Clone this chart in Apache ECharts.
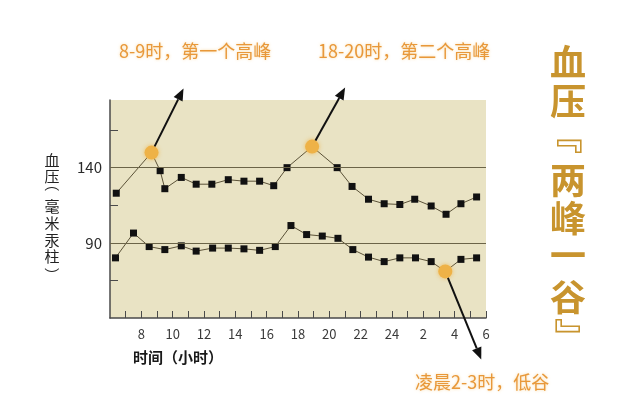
<!DOCTYPE html>
<html><head><meta charset="utf-8">
<script src="https://cdn.jsdelivr.net/npm/echarts@6/dist/echarts.min.js"></script>
<style>html,body{margin:0;padding:0;background:#fff}#c{width:640px;height:403px}</style>
</head><body><div id="c"></div>
<script>
// ---- data ----
const upperTime  = [6.4, 8.65, 9.2, 9.5, 10.55, 11.5, 12.5, 13.55, 14.55, 15.55, 16.45, 17.3, 18.9, 20.5, 21.45, 22.5, 23.5, 24.5, 25.45, 26.5, 27.45, 28.4, 29.4];
const upperValue = [123, 150, 138, 126, 133.5, 129, 129, 132, 131, 131, 128, 140, 154, 140, 127.5, 119, 116, 115.5, 119, 114.5, 109, 116, 120.5];
const upperHighlights = [1, 12];
const lowerTime  = [6.35, 7.5, 8.5, 9.5, 10.55, 11.5, 12.55, 13.55, 14.55, 15.55, 16.55, 17.55, 18.55, 19.55, 20.55, 21.5, 22.5, 23.5, 24.5, 25.5, 26.5, 27.4, 28.4, 29.4];
const lowerValue = [80, 96.5, 87.5, 85.5, 88, 84.5, 86.5, 86.5, 86, 85, 87.5, 101.5, 95.5, 94.5, 93, 85.5, 80.5, 77.5, 80, 80, 77.5, 71, 79, 80];
const lowerHighlights = [21];
const refLines = [140, 90];
const yLabelValues = [90, 140];
const yTickValues = [65, 90, 115, 140, 165];
const annotations = ['8-9时，第一个高峰', '18-20时，第二个高峰', '凌晨2-3时，低谷'];
const titleText = '血压『两峰一谷』';
const yName = '血压（毫米汞柱）';
const xName = '时间（小时）';

// ---- layout / styles ----
const FONT = '"Noto Sans CJK SC", "Noto Sans", sans-serif';
const ORANGE = '#e8983a';
const GOLD = '#c8942e';
const HL = { symbol: 'circle', symbolSize: 14, itemStyle: { color: '#eeb247', shadowBlur: 4, shadowColor: 'rgba(240,180,70,0.8)' } };
const ROTATE_CHARS = '『』（）';
const titleCenters = [62, 101, 136, 180, 218, 255, 297, 336];
const titleDx = [0, 0, -4, 0, 0, 0, 0, 5];
const yNameCenters = [160, 176, 184, 206, 223, 240, 256, 275];

function buildData(ts, vs, hls) {
  return ts.map((t, i) => hls.includes(i) ? Object.assign({ value: [t, vs[i]] }, HL) : { value: [t, vs[i]] });
}

function verticalText(id, str, x, centers, dx, style) {
  return str.split('').map((ch, i) => ({
    type: 'text', id: id + i, x: x + (dx ? dx[i] : 0), y: centers[i],
    rotation: ROTATE_CHARS.includes(ch) ? -Math.PI / 2 : 0,
    style: Object.assign({ text: ch, x: 0, y: 0, textAlign: 'center', textVerticalAlign: 'middle', fontFamily: FONT }, style)
  }));
}

const chart = echarts.init(document.getElementById('c'), null, { renderer: 'canvas' });

const annoStyle = { fill: ORANGE, fontSize: 18, fontFamily: FONT, textVerticalAlign: 'middle', textShadowBlur: 3, textShadowColor: 'rgba(245,200,120,0.7)' };
const texts = [
  { type: 'text', id: 'a1', x: 119, y: 51, style: Object.assign({ text: annotations[0] }, annoStyle) },
  { type: 'text', id: 'a2', x: 318, y: 51, style: Object.assign({ text: annotations[1] }, annoStyle) },
  { type: 'text', id: 'a3', x: 415, y: 382, style: Object.assign({ text: annotations[2] }, annoStyle) },
  { type: 'text', id: 'xname', x: 133, y: 357, style: { text: xName, fill: '#1a1a1a', fontSize: 15, fontWeight: 'bold', fontFamily: FONT, textVerticalAlign: 'middle' } }
].concat(
  verticalText('t', titleText, 568, titleCenters, titleDx, { fill: GOLD, fontSize: 36, fontWeight: 'bold' }),
  verticalText('y', yName, 52, yNameCenters, null, { fill: '#222', fontSize: 15 })
);

chart.setOption({
  animation: false,
  backgroundColor: '#ffffff',
  grid: { left: 110, right: 154, top: 100, bottom: 85, show: true, backgroundColor: '#e9e3c4', borderWidth: 0 },
  xAxis: {
    type: 'value', min: 6, max: 30, interval: 1,
    axisLine: { lineStyle: { color: '#4a4a4a', width: 1.5 } },
    axisTick: { inside: true, length: 7, lineStyle: { color: '#4a4a4a', width: 1 } },
    splitLine: { show: false },
    axisLabel: {
      showMinLabel: false, margin: 10, fontSize: 13, color: '#3a3a3a', fontFamily: FONT,
      formatter: v => (v % 2 === 0 && v > 6) ? String(v > 24 ? v - 24 : v) : ''
    }
  },
  yAxis: {
    type: 'value', min: 40, max: 185,
    axisLine: { show: true, lineStyle: { color: '#4a4a4a', width: 1.5 } },
    axisTick: { show: true, inside: true, length: 8, customValues: yTickValues, lineStyle: { color: '#4a4a4a' } },
    splitLine: { show: false },
    axisLabel: { customValues: yLabelValues, margin: 8, fontSize: 15, color: '#2a2a2a', fontFamily: FONT }
  },
  series: [
    {
      type: 'line', data: buildData(upperTime, upperValue, upperHighlights),
      symbol: 'rect', symbolSize: 7, itemStyle: { color: '#111' },
      lineStyle: { color: '#5b5238', width: 1 },
      z: 3,
      markLine: {
        silent: true, symbol: ['none', 'none'], label: { show: false },
        lineStyle: { color: '#6b6448', width: 1.2, type: 'solid' },
        data: refLines.map(v => ({ yAxis: v }))
      }
    },
    {
      type: 'line', data: buildData(lowerTime, lowerValue, lowerHighlights),
      symbol: 'rect', symbolSize: 7, itemStyle: { color: '#111' },
      lineStyle: { color: '#5b5238', width: 1 },
      z: 3
    }
  ],
  graphic: { elements: texts }
});

// arrows from highlighted points (annotation pointers)
const arrowDirs = [[32, -64], [33, -59], [36, 88]];
const arrowStarts = [
  [upperTime[upperHighlights[0]], upperValue[upperHighlights[0]]],
  [upperTime[upperHighlights[1]], upperValue[upperHighlights[1]]],
  [lowerTime[lowerHighlights[0]], lowerValue[lowerHighlights[0]]]
];
const arrows = [];
arrowStarts.forEach((p, i) => {
  const c = chart.convertToPixel({ gridIndex: 0 }, p);
  const d = arrowDirs[i];
  const len = Math.hypot(d[0], d[1]);
  const ux = d[0] / len, uy = d[1] / len;
  const sx = c[0] + ux * 7, sy = c[1] + uy * 7;
  const ex = c[0] + d[0], ey = c[1] + d[1];
  const bx = ex - ux * 12, by = ey - uy * 12;
  const px = -uy, py = ux;
  arrows.push({ type: 'line', id: 'al' + i, z: 10, shape: { x1: sx, y1: sy, x2: bx, y2: by }, style: { stroke: '#111', lineWidth: 2 } });
  arrows.push({ type: 'polygon', id: 'ah' + i, z: 10, shape: { points: [[ex, ey], [bx + px * 5, by + py * 5], [bx - px * 5, by - py * 5]] }, style: { fill: '#111' } });
});
chart.setOption({ graphic: { elements: texts.concat(arrows) } });
</script></body></html>
